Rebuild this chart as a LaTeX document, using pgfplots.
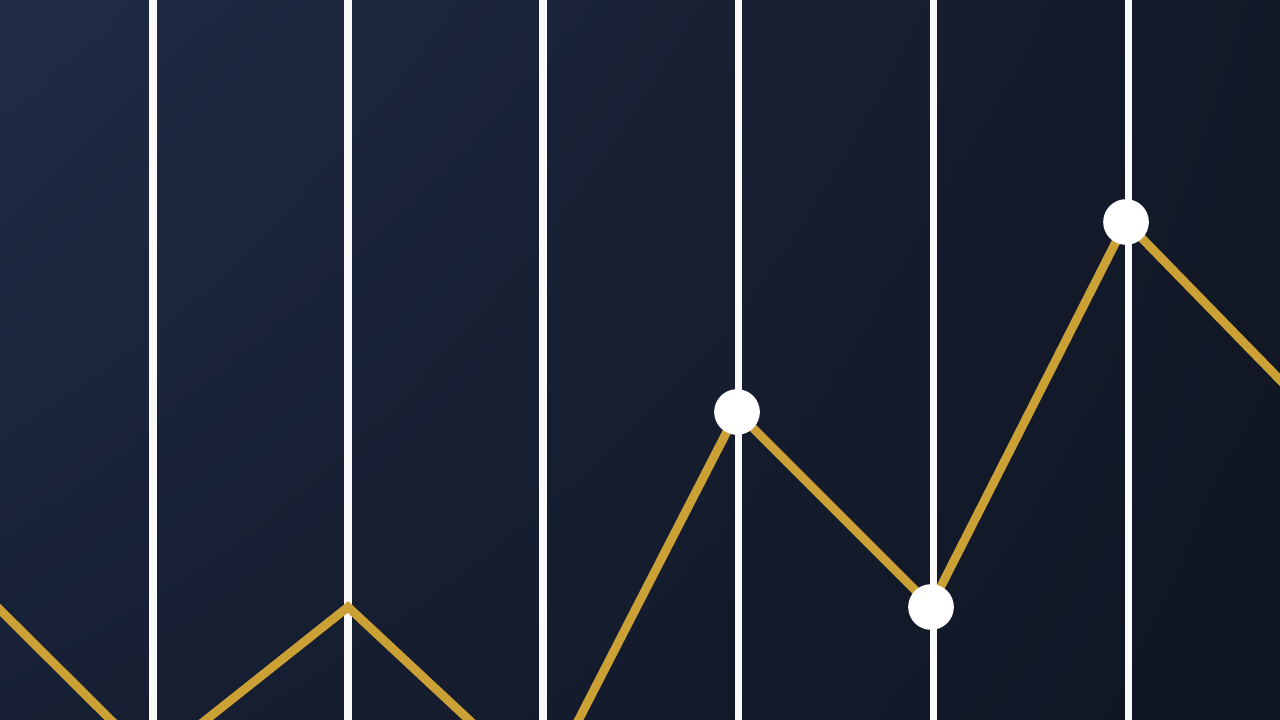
\documentclass[border=0pt]{standalone}
\usepackage{pgfplots}
\pgfplotsset{compat=1.18}
\usetikzlibrary{shadings}
\definecolor{gold}{HTML}{CBA035}
\definecolor{bgA}{HTML}{202C46}
\definecolor{bgB}{HTML}{121826}
\definecolor{bgC}{HTML}{172034}
\definecolor{bgD}{HTML}{0F1522}
\begin{document}
\begin{tikzpicture}
\useasboundingbox (0,0) rectangle (12.8cm,7.2cm);
\begin{axis}[
  at={(0,0)}, anchor=south west,
  width=12.8cm, height=7.2cm, scale only axis,
  xmin=0, xmax=1280, ymin=0, ymax=720, y dir=reverse,
  axis line style={draw=none},
  tick style={draw=none},
  xtick={153,348,543,738,933,1128},
  ytick=\empty,
  xticklabels={},
  xmajorgrids,
  major grid style={draw=white!96!gray, line width=2pt},
  axis background/.style={upper left=bgA, upper right=bgB, lower left=bgC, lower right=bgD},
  clip=true,
]
\addplot[gold, line width=2.5pt, line join=miter] coordinates {
  (-42,568) (153,762) (348,607) (543,789) (737,412) (931,606) (1126,222) (1323,424)
};
\addplot[only marks, mark=*, mark size=6.3pt, mark options={fill=white, draw=white}] coordinates {
  (737,412) (931,607) (1126,222)
};
\end{axis}
\end{tikzpicture}
\end{document}
